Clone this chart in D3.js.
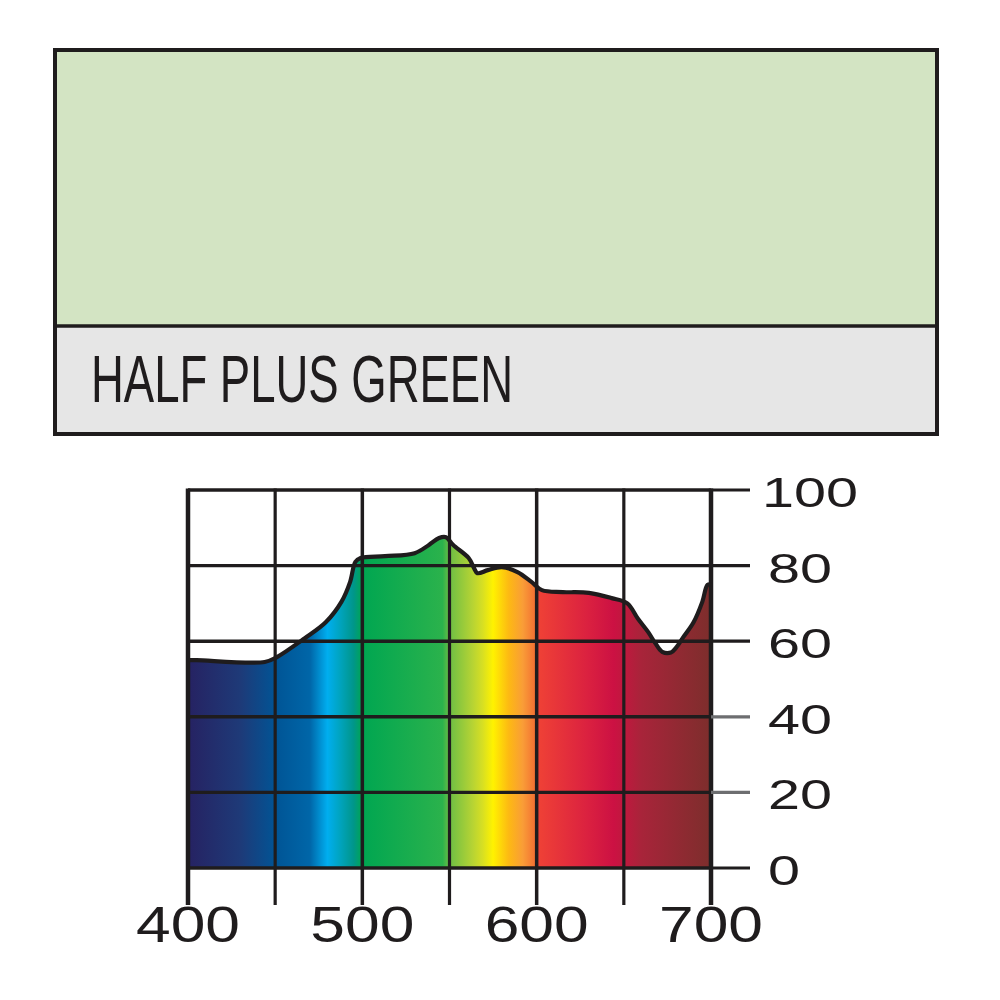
<!DOCTYPE html>
<html>
<head>
<meta charset="utf-8">
<script src="https://cdn.jsdelivr.net/npm/d3@7"></script>
<style>
  html, body { margin: 0; padding: 0; background: #fff; }
  svg { display: block; }
</style>
</head>
<body>
<div id="wrapper"></div>
<script>
// filter name shown in the swatch label
const filterName = "HALF PLUS GREEN";

// spectral transmission curve
const wavelengths  = [400, 405, 444, 451, 467, 479, 488, 493, 496, 499, 513, 530, 538, 544, 548, 552, 561, 564, 566, 572, 580, 589, 597, 603, 615, 630, 643, 652, 658, 664, 668, 672, 677, 680, 684, 690, 695, 698, 700];
const transmission = [55, 55, 54.5, 55.8, 60.8, 65, 70.4, 75.7, 81, 82, 82.5, 83.3, 85.4, 87.3, 87.5, 85.5, 82, 79.4, 78, 78.8, 79.6, 78.3, 75.7, 73.5, 73, 72.8, 71.4, 70, 66, 62.4, 59.5, 57.2, 57.0, 58.3, 61, 65, 70.4, 74.9, 75];

// spectrum band colours behind the curve
const specNm    = [400, 430, 451, 470, 480, 487, 495, 500, 546, 550, 563, 569, 575, 584, 592, 600, 601, 630, 644, 650, 660, 700];
const specColor = ["#262262", "#1e3a78", "#005596", "#0066a8", "#00aeef", "#00a4c0", "#00968a", "#00a651", "#2bb24c", "#6dbe45", "#b5d334", "#d7df23", "#fff200", "#fdb913", "#f99d37", "#f26b32", "#ef4136", "#da2040", "#cc1143", "#c0183e", "#a8243a", "#7d2e2c"];

const xTicks = [400, 450, 500, 550, 600, 650, 700];
const xLabels = [400, 500, 600, 700];
const yTicks = [0, 20, 40, 60, 80, 100];

const ink = "#1f1c1d";

const svg = d3.select("#wrapper").append("svg")
    .attr("width", 1000).attr("height", 1000)
    .attr("viewBox", "0 0 1000 1000");

svg.append("rect").attr("width", 1000).attr("height", 1000).attr("fill", "#fff");

// ---- swatch box ----
const box = svg.append("g");
box.append("rect").attr("x", 55).attr("y", 50).attr("width", 882).attr("height", 276).attr("fill", "#d3e4c3");
box.append("rect").attr("x", 55).attr("y", 326).attr("width", 882).attr("height", 108).attr("fill", "#e6e6e6");
box.append("line").attr("x1", 55).attr("x2", 937).attr("y1", 326).attr("y2", 326)
    .attr("stroke", ink).attr("stroke-width", 3.5);
box.append("rect").attr("x", 55).attr("y", 50).attr("width", 882).attr("height", 384)
    .attr("fill", "none").attr("stroke", ink).attr("stroke-width", 4);
box.append("text")
    .attr("x", 91).attr("y", 402)
    .attr("font-family", "'Liberation Sans Narrow', 'Liberation Sans', Arial, sans-serif")
    .attr("font-size", 66)
    .attr("fill", ink)
    .attr("textLength", 422).attr("lengthAdjust", "spacingAndGlyphs")
    .text(filterName);

// ---- spectrum chart ----
const x = d3.scaleLinear().domain([400, 700]).range([188, 711]);
const y = d3.scaleLinear().domain([0, 100]).range([868, 490]);

const defs = svg.append("defs");
const grad = defs.append("linearGradient")
    .attr("id", "spectrum")
    .attr("gradientUnits", "userSpaceOnUse")
    .attr("x1", x(400)).attr("x2", x(700)).attr("y1", 0).attr("y2", 0);
grad.selectAll("stop")
    .data(specNm)
    .enter().append("stop")
    .attr("offset", d => (x(d) - x(400)) / (x(700) - x(400)))
    .attr("stop-color", (d, i) => specColor[i]);

const pts = wavelengths.map((w, i) => [w, transmission[i]]);

const area = d3.area()
    .x(d => x(d[0])).y0(y(0)).y1(d => y(d[1]))
    .curve(d3.curveCatmullRom.alpha(0.5));
const line = d3.line()
    .x(d => x(d[0])).y(d => y(d[1]))
    .curve(d3.curveCatmullRom.alpha(0.5));

const chart = svg.append("g");

chart.append("path").datum(pts)
    .attr("d", area)
    .attr("fill", "url(#spectrum)");

// vertical grid lines, running down past the axis as ticks
chart.selectAll(".vgrid")
    .data(xTicks)
    .enter().append("line")
    .attr("class", "vgrid")
    .attr("x1", d => x(d)).attr("x2", d => x(d))
    .attr("y1", y(100) - 1.5).attr("y2", 905)
    .attr("stroke", ink)
    .attr("stroke-width", d => (d === 400 || d === 700) ? 4.5 : (d % 100 === 0 ? 3.5 : 3.2));

// horizontal grid lines, running right past the plot as ticks
chart.selectAll(".hgrid")
    .data(yTicks)
    .enter().append("line")
    .attr("class", "hgrid")
    .attr("x1", x(400)).attr("x2", x(700))
    .attr("y1", d => y(d)).attr("y2", d => y(d))
    .attr("stroke", ink).attr("stroke-width", 3.4);

chart.selectAll(".ytick")
    .data(yTicks)
    .enter().append("line")
    .attr("class", "ytick")
    .attr("x1", x(700)).attr("x2", 750)
    .attr("y1", d => y(d)).attr("y2", d => y(d))
    .attr("stroke", d => (d === 20 || d === 40) ? "#6d6e70" : ink)
    .attr("stroke-width", 3.2);

chart.append("path").datum(pts)
    .attr("d", line)
    .attr("fill", "none")
    .attr("stroke", ink)
    .attr("stroke-width", 4.2)
    .attr("stroke-linejoin", "round");

// axis labels
const labelFont = "'Liberation Sans', Arial, Helvetica, sans-serif";
chart.selectAll(".ylab")
    .data(yTicks)
    .enter().append("text")
    .attr("class", "ylab")
    .attr("x", d => d === 100 ? 762 : 768)
    .attr("y", d => y(d) + 17)
    .attr("font-family", labelFont)
    .attr("font-size", 43)
    .attr("fill", ink)
    .attr("textLength", d => String(d).length * 32)
    .attr("lengthAdjust", "spacingAndGlyphs")
    .text(d => d);

chart.selectAll(".xlab")
    .data(xLabels)
    .enter().append("text")
    .attr("class", "xlab")
    .attr("x", d => x(d) - 52)
    .attr("y", 942)
    .attr("font-family", labelFont)
    .attr("font-size", 50)
    .attr("fill", ink)
    .attr("textLength", 104)
    .attr("lengthAdjust", "spacingAndGlyphs")
    .text(d => d);
</script>
</body>
</html>
